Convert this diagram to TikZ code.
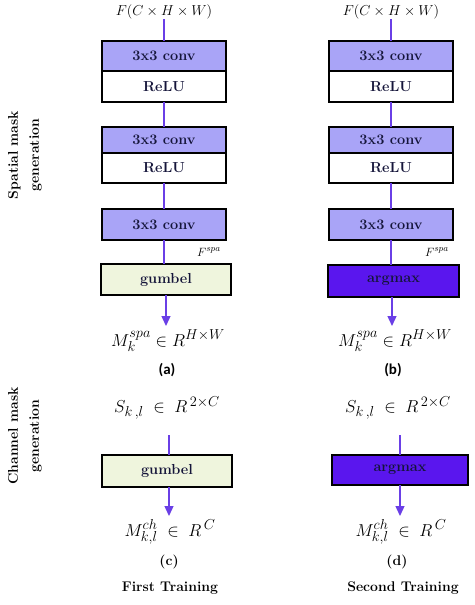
\documentclass[tikz,border=0pt]{standalone}
\usepackage{fontspec}
\usetikzlibrary{arrows.meta}
\newfontfamily\labsans{Carlito}
\definecolor{convfill}{HTML}{A9A4F7}
\definecolor{gumfill}{HTML}{EFF5DD}
\definecolor{argfill}{HTML}{5A16EE}
\definecolor{linec}{HTML}{6A3FE6}
\definecolor{txt}{HTML}{15153A}
\begin{document}
\begin{tikzpicture}[x=1pt,y=-1pt,
  blk/.style={draw=black, line width=1.7pt, inner sep=0pt, outer sep=0pt,
    font=\fontsize{14.5}{16}\selectfont\bfseries, text=txt},
  convbox/.style={blk, fill=convfill, minimum width=124pt},
  relubox/.style={blk, fill=white, minimum width=124pt},
  gumbox/.style={blk, fill=gumfill, minimum width=130pt},
  argbox/.style={blk, fill=argfill},
  conn/.style={draw=linec, line width=1.3pt},
  arr/.style={conn, -{Triangle[width=9pt,length=10pt]}, color=linec},
  mathlbl/.style={inner sep=0pt, font=\fontsize{15}{17}\selectfont},
  biglbl/.style={inner sep=0pt, font=\fontsize{19}{21}\selectfont},
  capsans/.style={inner sep=0pt, font=\fontsize{15}{17}\selectfont\labsans\bfseries},
  capser/.style={inner sep=0pt, font=\fontsize{14}{16}\selectfont\bfseries},
  sidelbl/.style={inner sep=0pt, rotate=90, align=center, font=\fontsize{14}{21}\selectfont\bfseries}
]
\useasboundingbox[fill=white] (0,0) rectangle (474,605);

% side labels
\node[sidelbl] (spl) at (25,155) {Spatial mask\\generation};
\node[sidelbl] (chl) at (25,436) {Channel mask\\generation};

% ---------- left column (a) ----------
\node[mathlbl] (Fa) at (164,12) {$F(C\times H\times W)$};
\node[convbox, minimum height=30pt] (ca1) at (164,56) {3x3 conv};
\node[relubox, minimum height=31pt] (ra1) at (164,86.5) {ReLU};
\node[convbox, minimum height=26pt] (ca2) at (164,140) {3x3 conv};
\node[relubox, minimum height=30pt] (ra2) at (164,168) {ReLU};
\node[convbox, minimum height=31pt] (ca3) at (164,224.5) {3x3 conv};
\node[gumbox, minimum height=31pt] (ga) at (166,279.5) {gumbel};
\node[inner sep=0pt, font=\fontsize{13}{15}\selectfont] (Fsa) at (209,252) {$F^{spa}$};
\coordinate (tipa) at (166,326);
\node[biglbl] (Ma) at (168,341) {$M_k^{spa}\in R^{H\times W}$};
\node[capsans] (la) at (167,370) {(a)};

\draw[conn] (Fa.south) -- (ca1.north);
\draw[conn] (ra1.south) -- (ca2.north);
\draw[conn] (ra2.south) -- (ca3.north);
\draw[conn] (ca3.south) -- (ca3.south |- ga.north);
\draw[arr] (ga.south -| tipa) -- (tipa);

% ---------- right column (b) ----------
\node[mathlbl] (Fb) at (391,12) {$F(C\times H\times W)$};
\node[convbox, minimum height=30pt] (cb1) at (391,56) {3x3 conv};
\node[relubox, minimum height=31pt] (rb1) at (391,86.5) {ReLU};
\node[convbox, minimum height=26pt] (cb2) at (391,140) {3x3 conv};
\node[relubox, minimum height=30pt] (rb2) at (391,168) {ReLU};
\node[convbox, minimum height=31pt] (cb3) at (391,224.5) {3x3 conv};
\node[argbox, minimum width=131pt, minimum height=32pt] (gb) at (393.5,281) {argmax};
\node[inner sep=0pt, font=\fontsize{13}{15}\selectfont] (Fsb) at (437,252) {$F^{spa}$};
\coordinate (tipb) at (392,326);
\node[biglbl] (Mb) at (395,341) {$M_k^{spa}\in R^{H\times W}$};
\node[capsans] (lb) at (393,370) {(b)};

\draw[conn] (Fb.south) -- (cb1.north);
\draw[conn] (rb1.south) -- (cb2.north);
\draw[conn] (rb2.south) -- (cb3.north);
\draw[conn] (cb3.south) -- (cb3.south |- gb.north);
\draw[arr] (gb.south -| tipb) -- (tipb);

% ---------- bottom left (c) ----------
\node[biglbl] (Sc) at (167,408) {$S_{k\,,l}\;\in\;R^{\,2\times C}$};
\coordinate (sc) at (169,435);
\node[gumbox, minimum height=32pt] (gc) at (167,471) {gumbel};
\coordinate (tipc) at (169,516);
\node[biglbl] (Mc) at (170,532) {$M^{ch}_{k,l}\;\in\;R^{\,C}$};
\node[capser] (lc) at (169,562) {(c)};
\node[capser] (ftc) at (170,588) {First Training};
\draw[conn] (sc) -- (sc |- gc.north);
\draw[arr] (gc.south -| tipc) -- (tipc);

% ---------- bottom right (d) ----------
\node[biglbl] (Sd) at (398,408) {$S_{k\,,l}\;\in\;R^{\,2\times C}$};
\coordinate (sd) at (400,435);
\node[argbox, minimum width=136pt, minimum height=30pt] (gd) at (400,470) {argmax};
\coordinate (tipd) at (400,516);
\node[biglbl] (Md) at (401,532) {$M^{ch}_{k,l}\;\in\;R^{\,C}$};
\node[capser] (ld) at (397,562) {(d)};
\node[capser] (ftd) at (403,588) {Second Training};
\draw[conn] (sd) -- (sd |- gd.north);
\draw[arr] (gd.south -| tipd) -- (tipd);
\end{tikzpicture}
\end{document}
